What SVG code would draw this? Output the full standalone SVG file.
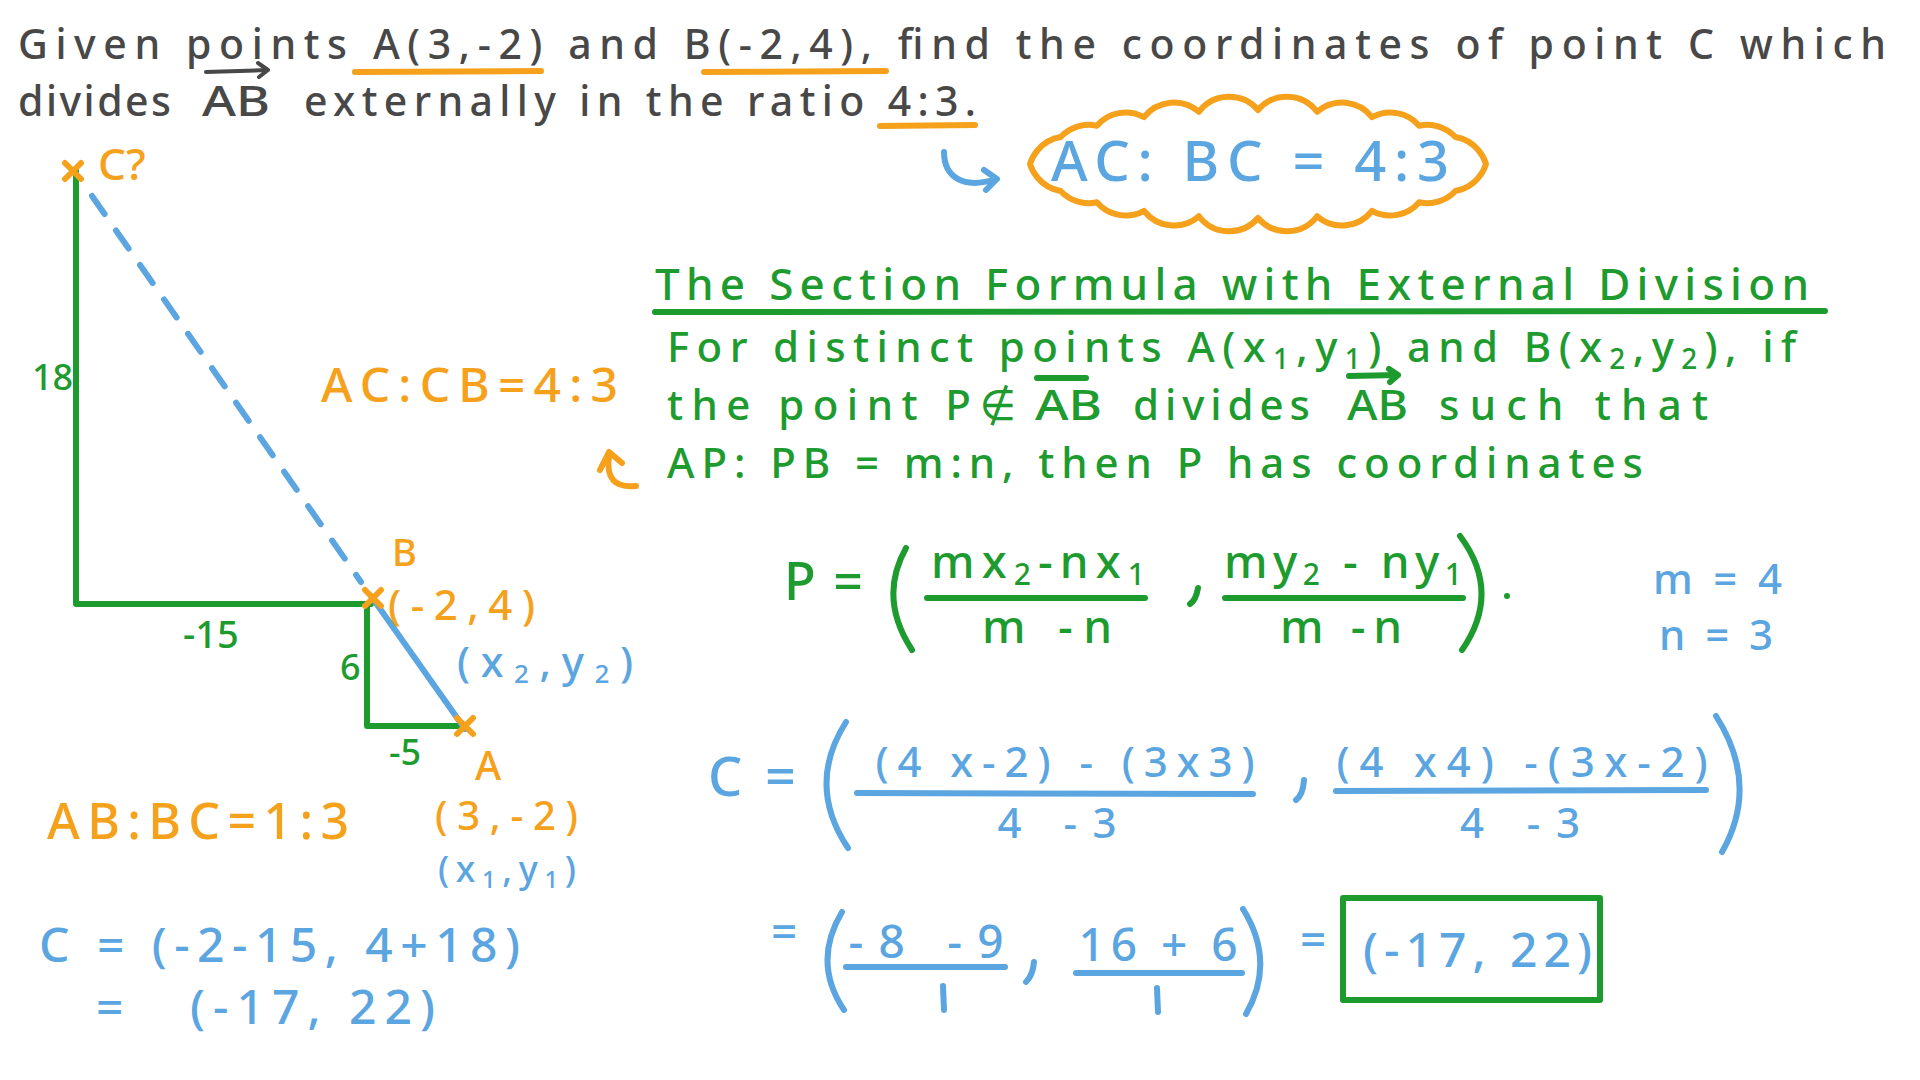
<svg xmlns="http://www.w3.org/2000/svg" width="1920" height="1080" viewBox="0 0 1920 1080">
<style>
text{font-family:"Noto Sans","DejaVu Sans",sans-serif;font-weight:500}
.k{fill:#484848}
.o{fill:#F5A11C}
.g{fill:#1E9B2E}
.b{fill:#5BA5E1}
.so{stroke:#F5A11C;fill:none;stroke-width:6;stroke-linecap:round;stroke-linejoin:round}
.sg{stroke:#1E9B2E;fill:none;stroke-width:6;stroke-linecap:round;stroke-linejoin:round}
.sb{stroke:#5BA5E1;fill:none;stroke-width:6;stroke-linecap:round;stroke-linejoin:round}
.sk{stroke:#484848;fill:none;stroke-width:4;stroke-linecap:round;stroke-linejoin:round}
</style>
<rect width="1920" height="1080" fill="#ffffff"/>

<g id="question">
<text class="k" x="18" y="59" font-size="41" textLength="1868" lengthAdjust="spacing">Given points A(3,-2) and B(-2,4), find the coordinates of point C which</text>
<text class="k" x="18" y="116" font-size="41" textLength="153" lengthAdjust="spacing">divides</text>
<text class="k" x="202" y="116" font-size="41" textLength="68" lengthAdjust="spacingAndGlyphs">AB</text>
<text class="k" x="304" y="116" font-size="41" textLength="672" lengthAdjust="spacing">externally in the ratio 4:3.</text>
<path class="sk" d="M206 72 L268 70 M258 63 L268 70 L259 77"/>
<path class="so" d="M355 72 L541 71 M704 72 L886 71 M880 126 L975 125"/>
</g>

<g id="figure">
<path class="sb" d="M92 196 L361 582" stroke-dasharray="22 20"/>
<path class="sg" d="M76 171 L76 604 L371 604 M367 606 L367 726 L465 726"/>
<path class="sb" d="M371 596 L465 729"/>
<path class="so" d="M65 163 L81 179 M81 163 L65 179 M365 590 L381 606 M381 590 L365 606 M457 718 L473 734 M473 718 L457 734"/>
<text class="o" x="98" y="180" font-size="44">C?</text>
<text class="g" x="32" y="390" font-size="36">18</text>
<text class="g" x="183" y="648" font-size="38">-15</text>
<text class="g" x="340" y="680" font-size="36">6</text>
<text class="g" x="389" y="765" font-size="36">-5</text>
<text class="o" x="392" y="566" font-size="38">B</text>
<text class="o" x="388" y="620" font-size="42" textLength="147" lengthAdjust="spacing">(-2,4)</text>
<text class="b" x="457" y="677" font-size="42" textLength="176" lengthAdjust="spacing">(x<tspan font-size="26" dy="6">2</tspan><tspan dy="-6">,y</tspan><tspan font-size="26" dy="6">2</tspan><tspan dy="-6">)</tspan></text>
<text class="o" x="475" y="780" font-size="40">A</text>
<text class="o" x="435" y="830" font-size="40" textLength="143" lengthAdjust="spacing">(3,-2)</text>
<text class="b" x="438" y="882" font-size="36" textLength="138" lengthAdjust="spacing">(x<tspan font-size="24" dy="6">1</tspan><tspan dy="-6">,y</tspan><tspan font-size="24" dy="6">1</tspan><tspan dy="-6">)</tspan></text>
</g>

<g id="ratios-left">
<text class="o" x="321" y="402" font-size="48" textLength="297" lengthAdjust="spacing">AC:CB=4:3</text>
<path class="so" d="M600 470 L609 452 L622 463 M609 456 C606 478 614 488 636 486"/>
<text class="o" x="47" y="839" font-size="50" textLength="302" lengthAdjust="spacing">AB:BC=1:3</text>
<text class="b" x="39" y="962" font-size="48" textLength="481" lengthAdjust="spacing">C = (-2-15, 4+18)</text>
<text class="b" x="96" y="1024" font-size="48">=</text>
<text class="b" x="190" y="1024" font-size="48" textLength="245" lengthAdjust="spacing">(-17, 22)</text>
</g>

<g id="ratio-cloud">
<path class="sb" d="M944 152 C944 176 962 190 996 179 M984 170 L997 179 L986 190"/>
<path class="so" stroke-width="5" d="M1486 164 A38 38 0 0 1 1478.2 178 A38 38 0 0 1 1455.4 191 A38 38 0 0 1 1419.2 202.2 A38 38 0 0 1 1372 210.8 A38 38 0 0 1 1317.1 216.2 A38 38 0 0 1 1258 218 A38 38 0 0 1 1198.9 216.2 A38 38 0 0 1 1144 210.8 A38 38 0 0 1 1096.8 202.2 A38 38 0 0 1 1060.6 191 A38 38 0 0 1 1037.8 178 A38 38 0 0 1 1030 164 A38 38 0 0 1 1037.8 150 A38 38 0 0 1 1060.6 137 A38 38 0 0 1 1096.8 125.8 A38 38 0 0 1 1144 117.2 A38 38 0 0 1 1198.9 111.8 A38 38 0 0 1 1258 110 A38 38 0 0 1 1317.1 111.8 A38 38 0 0 1 1372 117.2 A38 38 0 0 1 1419.2 125.8 A38 38 0 0 1 1455.4 137 A38 38 0 0 1 1478.2 150 A38 38 0 0 1 1486 164 Z"/>
<text class="b" x="1051" y="181" font-size="56" textLength="398" lengthAdjust="spacing">AC: BC = 4:3</text>
</g>

<g id="section-formula">
<text class="g" x="655" y="300" font-size="44" textLength="1154" lengthAdjust="spacing">The Section Formula with External Division</text>
<path class="sg" d="M655 312 L1825 311"/>
<text class="g" x="667" y="362" font-size="42" textLength="1129" lengthAdjust="spacing">For distinct points A(x<tspan font-size="28" dy="7">1</tspan><tspan dy="-7">,y</tspan><tspan font-size="28" dy="7">1</tspan><tspan dy="-7">) and B(x</tspan><tspan font-size="28" dy="7">2</tspan><tspan dy="-7">,y</tspan><tspan font-size="28" dy="7">2</tspan><tspan dy="-7">), if</tspan></text>
<text class="g" x="667" y="420" font-size="42" textLength="349" lengthAdjust="spacing">the point P∉</text>
<text class="g" x="1035" y="420" font-size="42" textLength="67" lengthAdjust="spacingAndGlyphs">AB</text>
<text class="g" x="1133" y="420" font-size="42" textLength="177" lengthAdjust="spacing">divides</text>
<text class="g" x="1347" y="420" font-size="42" textLength="61" lengthAdjust="spacingAndGlyphs">AB</text>
<text class="g" x="1439" y="420" font-size="42" textLength="269" lengthAdjust="spacing">such that</text>
<path class="sg" stroke-width="4" d="M1037 378 L1086 378 M1349 376 L1398 375 M1389 369 L1398 375 L1390 382"/>
<text class="g" x="667" y="478" font-size="42" textLength="976" lengthAdjust="spacing">AP: PB = m:n, then P has coordinates</text>
</g>

<g id="formula-p">
<text class="g" x="784" y="600" font-size="52" textLength="79" lengthAdjust="spacing">P=</text>
<path class="sg" d="M906 548 Q878 598 912 650 M1460 536 Q1502 592 1462 650"/>
<text class="g" x="1038" y="578" font-size="46" text-anchor="middle" textLength="214" lengthAdjust="spacing">mx<tspan font-size="30" dy="7">2</tspan><tspan dy="-7">-nx</tspan><tspan font-size="30" dy="7">1</tspan></text>
<path class="sg" d="M927 598 L1145 598 M1225 598 L1463 598"/>
<text class="g" x="1047" y="643" font-size="46" text-anchor="middle" textLength="130" lengthAdjust="spacing">m -n</text>
<path class="sg" stroke-width="5" d="M1198 588 Q1196 600 1190 604"/>
<text class="g" x="1343" y="578" font-size="46" text-anchor="middle" textLength="238" lengthAdjust="spacing">my<tspan font-size="30" dy="7">2</tspan><tspan dy="-7"> - ny</tspan><tspan font-size="30" dy="7">1</tspan></text>
<text class="g" x="1341" y="643" font-size="46" text-anchor="middle" textLength="122" lengthAdjust="spacing">m -n</text>
<circle cx="1507" cy="596" r="3" fill="#1E9B2E"/>
<text class="b" x="1653" y="594" font-size="42" textLength="129" lengthAdjust="spacing">m=4</text>
<text class="b" x="1659" y="650" font-size="42" textLength="114" lengthAdjust="spacing">n=3</text>
</g>

<g id="formula-c">
<text class="b" x="708" y="796" font-size="54" textLength="88" lengthAdjust="spacing">C=</text>
<path class="sb" stroke-width="5" d="M846 722 Q806 785 848 848 M1716 716 Q1760 785 1722 852"/>
<text class="b" x="1065" y="777" font-size="42" text-anchor="middle" textLength="379" lengthAdjust="spacing">(4 x-2) - (3x3)</text>
<path class="sb" d="M857 793 L1253 794 M1336 791 L1706 790"/>
<text class="b" x="1057" y="838" font-size="42" text-anchor="middle" textLength="119" lengthAdjust="spacing">4 -3</text>
<path class="sb" stroke-width="5" d="M1304 780 Q1303 795 1296 800"/>
<text class="b" x="1522" y="777" font-size="42" text-anchor="middle" textLength="371" lengthAdjust="spacing">(4 x4) -(3x-2)</text>
<text class="b" x="1520" y="838" font-size="42" text-anchor="middle" textLength="120" lengthAdjust="spacing">4 -3</text>
</g>

<g id="result">
<text class="b" x="771" y="948" font-size="46">=</text>
<path class="sb" stroke-width="5" d="M842 912 Q812 962 844 1010 M1243 909 Q1276 962 1246 1014"/>
<text class="b" x="926" y="958" font-size="46" text-anchor="middle" textLength="155" lengthAdjust="spacing">-8 -9</text>
<path class="sb" d="M846 967 L1005 967 M1076 973 L1242 973"/>
<path class="sb" stroke-width="4" d="M943 986 L944 1010 M1157 988 L1158 1012"/>
<path class="sb" stroke-width="5" d="M1034 962 Q1033 975 1026 982"/>
<text class="b" x="1158" y="961" font-size="46" text-anchor="middle" textLength="159" lengthAdjust="spacing">16 + 6</text>
<text class="b" x="1300" y="956" font-size="46">=</text>
<rect class="sg" x="1343" y="898" width="257" height="102"/>
<text class="b" x="1363" y="967" font-size="48" textLength="229" lengthAdjust="spacing">(-17, 22)</text>
</g>
</svg>
